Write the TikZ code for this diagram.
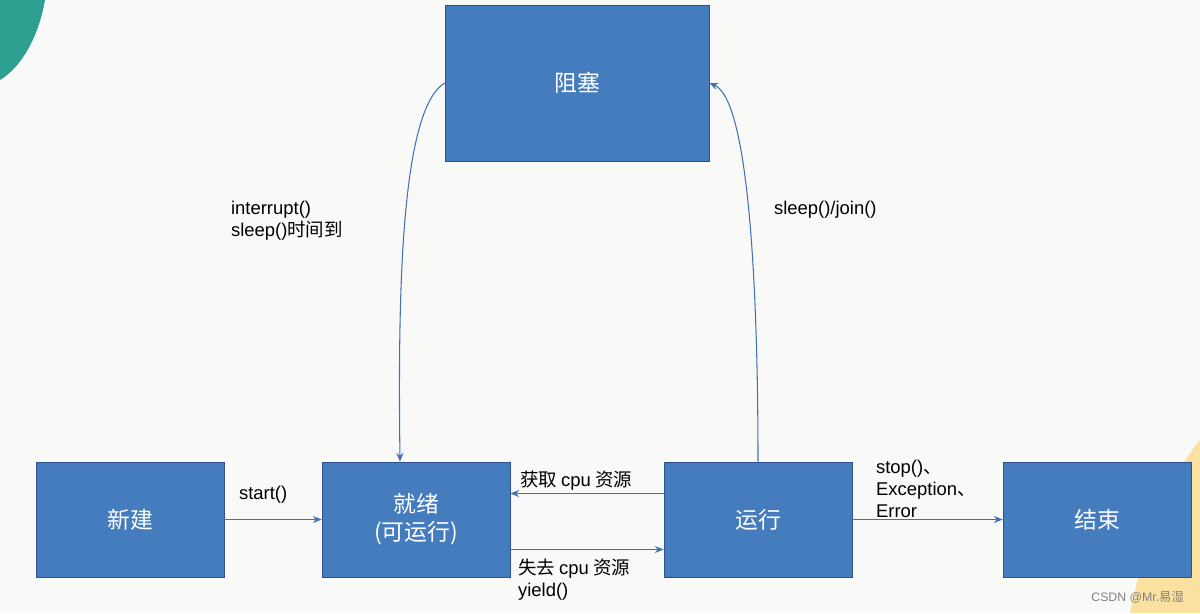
\documentclass[tikz,border=0pt]{standalone}
\usepackage{fontspec}
\setmainfont{Liberation Sans}
\newfontfamily\cjk{Noto Sans CJK SC}
\usetikzlibrary{arrows.meta,positioning}
\definecolor{statefill}{RGB}{68,124,190}
\definecolor{stateline}{RGB}{47,82,143}
\definecolor{flowblue}{RGB}{62,114,180}
\definecolor{pagegray}{RGB}{249,249,248}
\definecolor{cornerteal}{RGB}{46,160,145}
\definecolor{corneryellow}{RGB}{250,225,160}
\begin{document}
\begin{tikzpicture}[x=0.02cm,y=-0.02cm,
    state/.style={draw=stateline, fill=statefill, text=white, minimum width=3.76cm, minimum height=2.3cm, font=\cjk\fontsize{13}{16}\selectfont, align=center, inner sep=0pt},
    flow/.style={flowblue, semithick, -{Stealth[length=5pt,width=4pt]}},
    lbl/.style={font=\fontsize{10.5}{12.5}\selectfont, align=left, inner sep=1pt}]
    % background and corners
    \fill[pagegray] (0,0) rectangle (1200,613);
    \useasboundingbox (0,0) rectangle (1200,613);
    \fill[cornerteal] (0,80) .. controls (25,65) and (40,30) .. (45,0) -- (0,0) -- cycle;
    \fill[corneryellow] (1130,613) .. controls (1150,520) and (1175,470) .. (1200,440) -- (1200,613) -- cycle;

    % states
    \node[state, minimum width=5.28cm, minimum height=3.12cm] (blocked) at (577,83) {阻塞};
    \node[state] (new) at (130,519.5) {新建};
    \node[state] (ready) at (416,519.5) {就绪\\(可运行)};
    \node[state] (running) at (758,519.5) {运行};
    \node[state] (dead) at (1097,519.5) {结束};

    % transitions
    \draw[flow] (new.east) -- (ready.west);
    \draw[flow] ([yshift=-0.6cm]ready.east) -- ([yshift=-0.6cm]running.west);
    \draw[flow] ([yshift=0.52cm]running.west) -- ([yshift=0.52cm]ready.east);
    \draw[flow] (running.east) -- (dead.west);
    \draw[flow] (blocked.west) .. controls (400,110) and (398,300) .. ([xshift=-0.32cm]ready.north);
    \draw[flow] (running.north) .. controls (758,300) and (750,100) .. (blocked.east);

    % labels
    \node[lbl, anchor=south west] (lstart) at (237,505) {start()};
    \node[lbl, anchor=south west] (lget) at (518,492) {\cjk 获取 {\rmfamily cpu} 资源};
    \node[lbl, anchor=north west] (llose) at (516,557) {\cjk 失去 {\rmfamily cpu} 资源\\yield()};
    \node[lbl, anchor=south west] (lstop) at (874,520) {stop()\cjk 、\\Exception\cjk 、\\Error};
    \node[lbl, anchor=north west] (lwake) at (229,199) {interrupt()\\sleep()\cjk 时间到};
    \node[lbl, anchor=north west] (lsleep) at (772,199) {sleep()/join()};
    \node[font=\cjk\fontsize{7}{8}\selectfont, text=gray, anchor=east] (mark) at (1190,597) {{\rmfamily CSDN @Mr.}易湿};
\end{tikzpicture}
\end{document}
